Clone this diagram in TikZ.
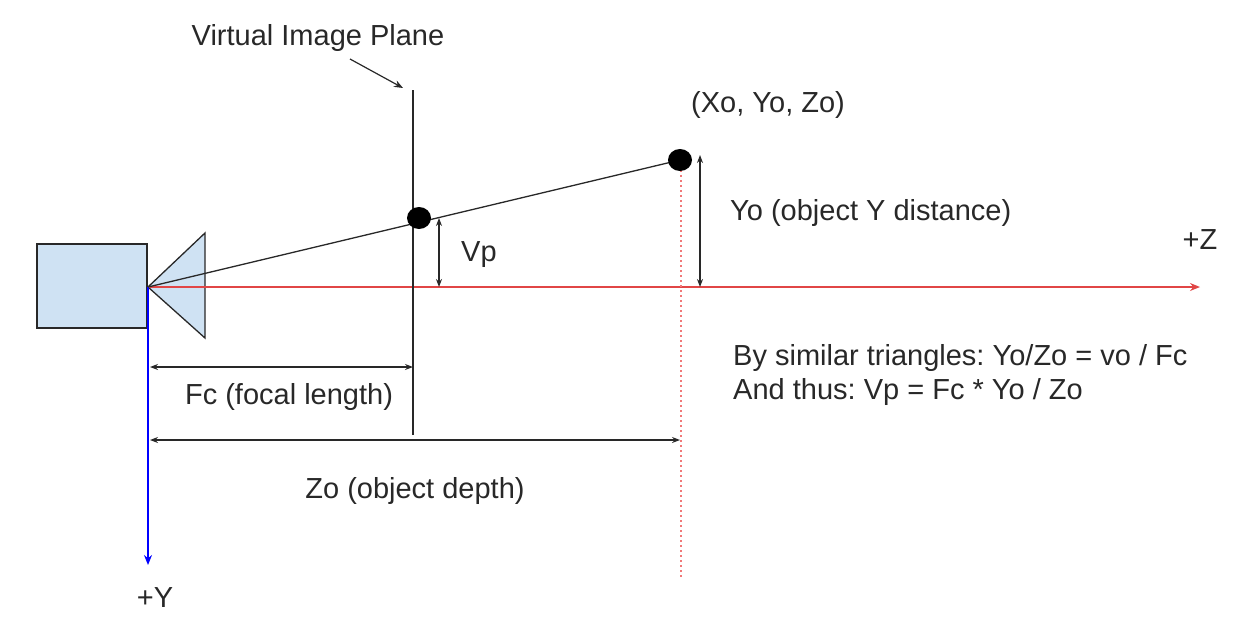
\documentclass[tikz,border=0pt]{standalone}
\usepackage{fontspec}
\setmainfont{Liberation Sans}
\usetikzlibrary{arrows.meta}
\definecolor{axred}{RGB}{225,70,70}
\definecolor{dotred}{RGB}{240,120,120}
\definecolor{camblue}{RGB}{207,226,243}
\definecolor{ink}{RGB}{40,40,40}
\begin{document}
\frenchspacing
\begin{tikzpicture}[x=1pt,y=-1pt,
  lbl/.style={font=\fontsize{29}{34}\selectfont,text=ink,inner sep=0pt},
  dim/.style={{Stealth[length=8pt,width=6pt]}-{Stealth[length=8pt,width=6pt]},line width=1.2pt,ink},
  cam/.style={fill=camblue,draw=ink,line width=1.3pt}]
\useasboundingbox (0,0) rectangle (1246,627);
\coordinate (O) at (148,287);
\draw[cam] (37,244) rectangle (147,328);
\draw[cam] (O) -- (205,233) -- (205,338) -- cycle;
\draw[axred,line width=1.5pt,-{Stealth[length=10pt,width=8pt]}] (O) -- (1200,287) coordinate (zend);
\draw[blue,line width=1.5pt,-{Stealth[length=10pt,width=8pt]}] (O) -- (148,565) coordinate (yend);
\draw[ink,line width=1.3pt] (413,90) coordinate (pt) -- (413,435) coordinate (pb);
\draw[dotred,dash pattern=on 2pt off 3pt,line width=1.3pt] (681,165) coordinate (dt) -- (681,578) coordinate (db);
\draw[ink,line width=1.3pt] (O) -- (680,160) coordinate (P);
\fill[black] (419,218) ellipse (12 and 11);
\fill[black] (680,160) ellipse (12 and 11);
\draw[dim] (439,218) coordinate (va) -- (439,287) coordinate (vb);
\draw[dim] (700,155) coordinate (ya) -- (700,287) coordinate (yb);
\draw[dim] (150,367) coordinate (fa) -- (413,367) coordinate (fb);
\draw[dim] (150,440) coordinate (za) -- (680,440) coordinate (zb);
\node[lbl,anchor=west] (vp) at (461,255) {Vp};
\node[lbl,anchor=west] (yo) at (730,213) {Yo (object Y distance)};
\node[lbl] (fc) at (289,397) {Fc (focal length)};
\node[lbl] (zo) at (415,491) {Zo (object depth)};
\node[lbl] (py) at (155,598) {+Y};
\node[lbl] (pz) at (1200,240) {+Z};
\node[lbl] (xyz) at (768,105) {(Xo, Yo, Zo)};
\node[lbl] (vip) at (318,38) {Virtual Image Plane};
\draw[line width=1.2pt,ink,-{Stealth[length=9pt,width=7pt]}] (350,59) coordinate (aa) -- (403,88) coordinate (ab);
\node[lbl,anchor=west] (t1) at (733,358) {By similar triangles: Yo/Zo = vo / Fc};
\node[lbl,anchor=west] (t2) at (733,392) {And thus: Vp = Fc * Yo / Zo};
\end{tikzpicture}
\end{document}
